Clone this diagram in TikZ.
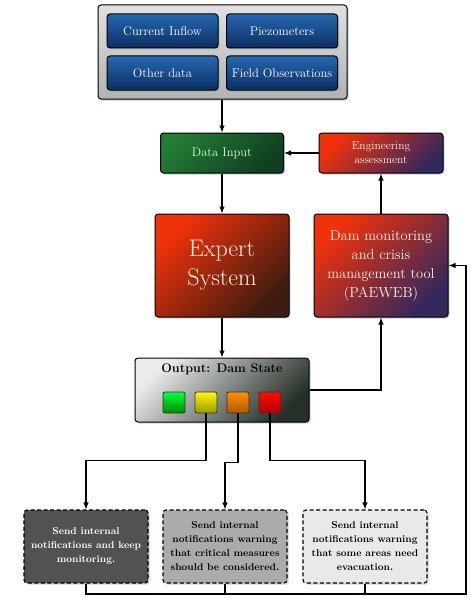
\documentclass[tikz,border=0pt]{standalone}
\usepackage{tikz}
\usetikzlibrary{shadows,arrows.meta}

\definecolor{blueTop}{RGB}{38,104,176}
\definecolor{blueBot}{RGB}{12,46,98}
\definecolor{greenTop}{RGB}{34,124,52}
\definecolor{greenBot}{RGB}{16,62,32}
\definecolor{fireTop}{RGB}{240,50,10}
\definecolor{fireBot}{RGB}{62,28,16}
\definecolor{plumMid}{RGB}{170,30,40}
\definecolor{plumBot}{RGB}{52,40,92}
\definecolor{stateBot}{RGB}{38,48,40}
\definecolor{halo}{RGB}{120,165,165}

\tikzset{
  panel/.style={draw=black,line width=1pt,rounded corners=3pt,
    drop shadow={shadow xshift=1.5pt,shadow yshift=-1.5pt,opacity=.45,fill=halo}},
  datbox/.style={panel,minimum width=111pt,minimum height=34pt,text=white,
    top color=blueTop,bottom color=blueBot,font=\fontsize{12.5}{14}\selectfont},
  redbox/.style={panel,text=white!88!orange,align=center,
    left color=fireTop,middle color=plumMid,right color=plumBot,shading angle=45},
  lamp/.style={draw=black!80,line width=.8pt,rounded corners=2pt,minimum width=22pt,minimum height=21pt},
  notebox/.style={panel,dash pattern=on 4pt off 2.5pt,line width=1.1pt,minimum width=124pt,minimum height=73pt,
    align=center,font=\fontsize{10}{14}\selectfont\bfseries},
  link/.style={line width=1.1pt,-{Latex[length=7pt,width=5.5pt]}}
}

\begin{document}
\begin{tikzpicture}[x=1pt,y=-1pt] % pixel grid, origin top left
  \useasboundingbox (0,0) rectangle (474,610);
  % data sources
  \node[panel,minimum width=249pt,minimum height=94pt,top color=black!12,bottom color=black!30] (top) at (222.5,52) {};
  \node[datbox] (inflow) at (162.5,31) {Current Inflow};
  \node[datbox] (piezo) at (282,31) {Piezometers};
  \node[datbox] (other) at (162.5,73) {Other data};
  \node[datbox] (field) at (282,73) {Field Observations};
  % middle column
  \node[panel,minimum width=123pt,minimum height=40pt,text=white!85!green,
    left color=greenTop,right color=greenBot,shading angle=45,
    font=\fontsize{12.5}{14}\selectfont] (input) at (222,153) {Data Input};
  \node[redbox,minimum width=124pt,minimum height=40pt,
    font=\fontsize{11.5}{14}\selectfont] (eng) at (381,153) {Engineering\\assessment};
  \node[panel,minimum width=134pt,minimum height=103pt,text=white!90!orange,align=center,
    left color=fireTop,right color=fireBot,shading angle=45,
    font=\fontsize{24}{29}\selectfont] (expert) at (222,265.5) {Expert\\System};
  \node[redbox,minimum width=134pt,minimum height=103pt,
    font=\fontsize{14.5}{19}\selectfont] (dam) at (381,265.5) {Dam monitoring\\and crisis\\management tool\\(PAEWEB)};
  % dam state
  \node[panel,minimum width=174pt,minimum height=64pt,
    left color=black!8,right color=stateBot,shading angle=45] (output) at (222,390) {};
  \node[font=\fontsize{12.5}{14}\selectfont\bfseries] (title) at (222,369) {Output: Dam State};
  \node[lamp,top color=green!75!cyan,bottom color=green!55!black] (sq1) at (174,402.5) {};
  \node[lamp,top color=yellow!95!orange,bottom color=yellow!60!black] (sq2) at (206,402.5) {};
  \node[lamp,top color=orange!90!yellow,bottom color=orange!70!black] (sq3) at (238,402.5) {};
  \node[lamp,top color=red!90!orange,bottom color=red!70!black] (sq4) at (270,402.5) {};
  % notifications
  \node[notebox,fill=black!68,text=white] (n1) at (86,546.5) {Send internal\\notifications and keep\\monitoring.};
  \node[notebox,fill=black!33] (n2) at (225,546.5) {Send internal\\notifications warning\\that critical measures\\should be considered.};
  \node[notebox,fill=cyan!5!black!10] (n3) at (365,546.5) {Send internal\\notifications warning\\that some areas need\\evacuation.};
  \coordinate (loop) at (466,594);
  % connectors
  \draw[link] (top.south -| input.north) -- (input.north);
  \draw[link] (eng.west) -- (input.east);
  \draw[link] (input.south) -- (expert.north);
  \draw[link] (expert.south) -- (output.north);
  \draw[link] (dam.north) -- (eng.south);
  \draw[link] (output.east) -| (dam.south);
  \draw[link] (sq2.south) -- ++(0,47) -| (n1.north);
  \draw[link] (sq3.south) -- ++(0,49) -| (n2.north);
  \draw[link] (sq4.south) -- ++(0,47) -| (n3.north);
  \draw[link] (n1.south) |- (loop) |- (dam.east);
  \draw[line width=1.1pt] (n2.south) -- (n2.south |- loop);
  \draw[line width=1.1pt] (n3.south) -- (n3.south |- loop);
\end{tikzpicture}
\end{document}
